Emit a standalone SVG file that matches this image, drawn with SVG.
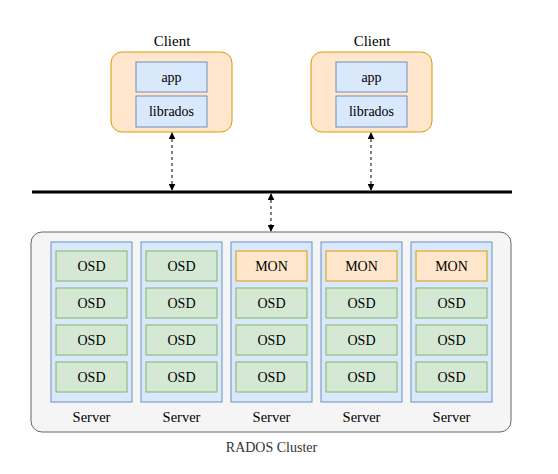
<svg xmlns="http://www.w3.org/2000/svg" width="558" height="474" viewBox="0 0 558 474">
<style>
text{font-family:'Liberation Serif','Times New Roman','DejaVu Serif',serif;font-size:14px;fill:#000;text-anchor:middle;dominant-baseline:central}
.lbl{font-size:15px}
.srv{font-size:14.5px}
.cl{font-size:14px;fill:#333333}
.client{fill:#ffe6cc;stroke:#d79b00;stroke-width:1}
.blue{fill:#dae8fc;stroke:#6c8ebf;stroke-width:1}
.osd{fill:#d5e8d4;stroke:#82b366;stroke-width:1}
.mon{fill:#ffe6cc;stroke:#d79b00;stroke-width:1}
.cluster{fill:#f5f5f5;stroke:#666666;stroke-width:1}
.conn{stroke:#000;stroke-width:1;stroke-dasharray:3 3;fill:none}
</style>
<defs>
<marker id="ah" viewBox="0 0 10 10" refX="9" refY="5" markerWidth="7" markerHeight="7" orient="auto-start-reverse" markerUnits="userSpaceOnUse">
<path d="M0,0 L10,5 L0,10 Z" fill="#000"/>
</marker>
</defs>
<rect width="558" height="474" fill="#fff"/>
<g font-family="Liberation Serif, serif">
<g id="client1">
<text class="lbl" x="172" y="41">Client</text>
<rect class="client" x="111" y="52" width="121" height="80" rx="11"/>
<g id="app1"><rect class="blue" x="136" y="62" width="71" height="30"/><text x="171.5" y="77">app</text></g>
<g id="librados1"><rect class="blue" x="136" y="96" width="71" height="31"/><text x="171.5" y="111.5">librados</text></g>
</g>
<g id="client2">
<text class="lbl" x="372" y="41">Client</text>
<rect class="client" x="311" y="52" width="121" height="80" rx="11"/>
<g id="app2"><rect class="blue" x="336" y="62" width="71" height="30"/><text x="371.5" y="77">app</text></g>
<g id="librados2"><rect class="blue" x="336" y="96" width="71" height="31"/><text x="371.5" y="111.5">librados</text></g>
</g>
<g id="network">
<line x1="32" y1="192" x2="512" y2="192" stroke="#000" stroke-width="3"/>
</g>
<g id="cluster">
<rect class="cluster" x="31" y="232" width="480" height="200" rx="11"/>
<text class="cl" x="271.5" y="447.5">RADOS Cluster</text>
</g>
<g id="server1">
<rect class="blue" x="51" y="242" width="81" height="160"/>
<rect class="osd" x="56" y="251" width="71" height="30"/><text x="91.5" y="266">OSD</text>
<rect class="osd" x="56" y="288" width="71" height="30"/><text x="91.5" y="303">OSD</text>
<rect class="osd" x="56" y="325" width="71" height="30"/><text x="91.5" y="340">OSD</text>
<rect class="osd" x="56" y="362" width="71" height="30"/><text x="91.5" y="377">OSD</text>
<text class="srv" x="91.5" y="417">Server</text>
</g>
<g id="server2">
<rect class="blue" x="141" y="242" width="81" height="160"/>
<rect class="osd" x="146" y="251" width="71" height="30"/><text x="181.5" y="266">OSD</text>
<rect class="osd" x="146" y="288" width="71" height="30"/><text x="181.5" y="303">OSD</text>
<rect class="osd" x="146" y="325" width="71" height="30"/><text x="181.5" y="340">OSD</text>
<rect class="osd" x="146" y="362" width="71" height="30"/><text x="181.5" y="377">OSD</text>
<text class="srv" x="181.5" y="417">Server</text>
</g>
<g id="server3">
<rect class="blue" x="231" y="242" width="81" height="160"/>
<rect class="mon" x="236" y="251" width="71" height="30"/><text x="271.5" y="266">MON</text>
<rect class="osd" x="236" y="288" width="71" height="30"/><text x="271.5" y="303">OSD</text>
<rect class="osd" x="236" y="325" width="71" height="30"/><text x="271.5" y="340">OSD</text>
<rect class="osd" x="236" y="362" width="71" height="30"/><text x="271.5" y="377">OSD</text>
<text class="srv" x="271.5" y="417">Server</text>
</g>
<g id="server4">
<rect class="blue" x="321" y="242" width="81" height="160"/>
<rect class="mon" x="326" y="251" width="71" height="30"/><text x="361.5" y="266">MON</text>
<rect class="osd" x="326" y="288" width="71" height="30"/><text x="361.5" y="303">OSD</text>
<rect class="osd" x="326" y="325" width="71" height="30"/><text x="361.5" y="340">OSD</text>
<rect class="osd" x="326" y="362" width="71" height="30"/><text x="361.5" y="377">OSD</text>
<text class="srv" x="361.5" y="417">Server</text>
</g>
<g id="server5">
<rect class="blue" x="411" y="242" width="81" height="160"/>
<rect class="mon" x="416" y="251" width="71" height="30"/><text x="451.5" y="266">MON</text>
<rect class="osd" x="416" y="288" width="71" height="30"/><text x="451.5" y="303">OSD</text>
<rect class="osd" x="416" y="325" width="71" height="30"/><text x="451.5" y="340">OSD</text>
<rect class="osd" x="416" y="362" width="71" height="30"/><text x="451.5" y="377">OSD</text>
<text class="srv" x="451.5" y="417">Server</text>
</g>
</g>
<g id="connectors">
<line class="conn" x1="172" y1="133" x2="172" y2="190" marker-start="url(#ah)" marker-end="url(#ah)"/>
<line class="conn" x1="371" y1="133" x2="371" y2="190" marker-start="url(#ah)" marker-end="url(#ah)"/>
<line class="conn" x1="271" y1="194" x2="271" y2="231" marker-start="url(#ah)" marker-end="url(#ah)"/>
</g>
</svg>
